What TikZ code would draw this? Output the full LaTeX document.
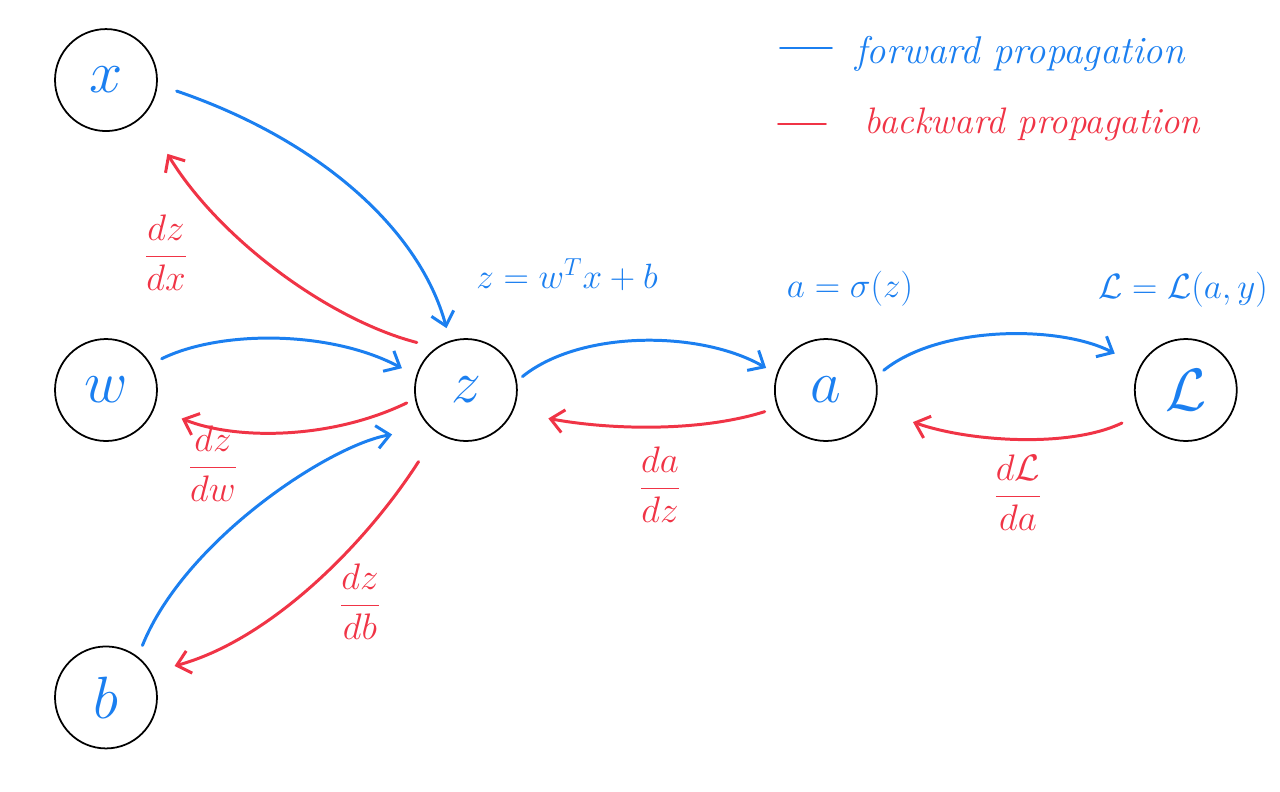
\documentclass[tikz,border=0pt]{standalone}
\usepackage{fix-cm}
\usepackage{amsmath}
\usetikzlibrary{arrows.meta}

\definecolor{fwdblue}{RGB}{27,127,240}
\definecolor{bwdred}{RGB}{240,52,70}

\begin{document}
\begin{tikzpicture}[x=0.02cm,y=-0.02cm,>={Straight Barb[length=2.6mm,width=4.6mm]},
                    line cap=round,node distance=7.2cm]
  \tikzstyle{unit}=[circle,draw=black,line width=1pt,minimum size=2.04cm,
                    inner sep=0pt,text=fwdblue,font=\fontsize{34}{40}\selectfont]
  \tikzstyle{fwd}=[->,draw=fwdblue,line width=1.7pt]
  \tikzstyle{bwd}=[->,draw=bwdred,line width=1.7pt]
  \tikzstyle{grad}=[text=bwdred,font=\fontsize{21}{24}\selectfont]
  \tikzstyle{eqn}=[text=fwdblue,font=\fontsize{20}{24}\selectfont]
  \tikzstyle{legend}=[anchor=base west,inner sep=0pt,font=\fontsize{21}{24}\selectfont\itshape]

  \useasboundingbox (0,0) rectangle (1280,791);

  \node[unit] (w) at (106,390)                 {$w$};
  \node[unit] (x) [above of=w,node distance=6.2cm] {$x$};
  \node[unit] (b) [below of=w,node distance=6.15cm] {$b$};
  \node[unit] (z) [right of=w]                 {$z$};
  \node[unit] (a) [right of=z]                 {$a$};
  \node[unit] (L) [right of=a]                 {$\mathcal{L}$};

  % forward propagation
  \draw[fwd,shorten <=4mm,shorten >=2.6mm]   (x.-5)  .. controls (320,140) and (420,230) .. (z.108);
  \draw[fwd,shorten <=2.4mm,shorten >=3.2mm] (w.30)  .. controls (220,330) and (330,330) .. (z.164);
  \draw[fwd,shorten <=2.4mm,shorten >=7.8mm] (b.52)  .. controls (185,540) and (330,445) .. (z.227);
  \draw[fwd,shorten <=1.4mm,shorten >=2.4mm] (z.10)  .. controls (580,330) and (700,330) .. (a.162);
  \draw[fwd,shorten <=2mm,shorten >=5.6mm]   (a.15)  .. controls (940,325) and (1060,325) .. (L.153);

  % backward propagation
  \draw[bwd,shorten <=4mm,shorten >=9mm]     (z.125) .. controls (330,320) and (220,240) .. (x.-43);
  \draw[bwd,shorten <=1.8mm,shorten >=5.8mm] (z.190) .. controls (330,440) and (235,440) .. (w.-20);
  \draw[bwd,shorten <=6.8mm,shorten >=4.8mm] (z.236) .. controls (365,545) and (270,640) .. (b.29);
  \draw[bwd,shorten <=2.6mm,shorten >=7.2mm] (a.200) .. controls (700,432) and (611,430) .. (z.-25);
  \draw[bwd,shorten <=4mm,shorten >=8.2mm]   (L.208) .. controls (1070,448) and (970,442) .. (a.-21);

  % derivatives
  \node[grad] (dzdx) at (166,253)  {$\dfrac{dz}{dx}$};
  \node[grad] (dzdw) at (213,464)  {$\dfrac{dz}{dw}$};
  \node[grad] (dzdb) at (360,602)  {$\dfrac{dz}{db}$};
  \node[grad] (dadz) at (660,485)  {$\dfrac{da}{dz}$};
  \node[grad] (dLda) at (1018,493) {$\dfrac{d\mathcal{L}}{da}$};

  % equations
  \node[eqn] (zeq) at (567,275)  {$z=w^{T}x+b$};
  \node[eqn] (aeq) at (850,289)  {$a=\sigma(z)$};
  \node[eqn] (Leq) at (1183,290) {$\mathcal{L}=\mathcal{L}(a,y)$};

  % legend
  \draw[fwdblue,line width=1pt] (780,48) -- (832,48);
  \draw[bwdred,line width=1pt]  (778,124) -- (826,124);
  \node[legend,text=fwdblue,font=\fontsize{22}{24}\selectfont\itshape] (fwdtxt) at (855,63) {forward propagation};
  \node[legend,text=bwdred]  (bwdtxt) at (864,133) {backward propagation};
\end{tikzpicture}
\end{document}
